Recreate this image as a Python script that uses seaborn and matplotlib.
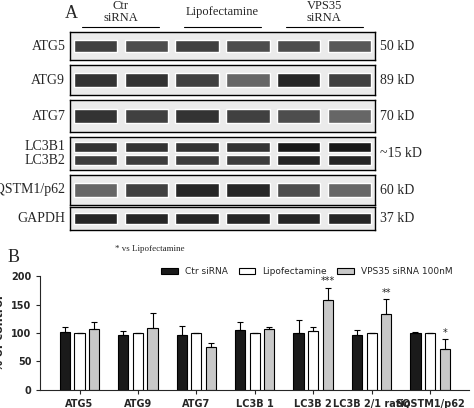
import matplotlib
matplotlib.use("Agg")
import matplotlib.pyplot as plt
import seaborn as sns
import pandas as pd
import numpy as np

categories = ["ATG5", "ATG9", "ATG7", "LC3B 1", "LC3B 2", "LC3B 2/1 ratio", "SQSTM1/p62"]
groups = ["Ctr siRNA", "Lipofectamine", "VPS35 siRNA 100nM"]
ctr_mean = [102, 97, 96, 106, 100, 97, 99]
ctr_err = [8, 6, 17, 14, 23, 8, 3]
lipo_mean = [99, 99, 99, 99, 103, 99, 99]
lipo_err = [0, 0, 1, 0, 8, 0, 0]
vps_mean = [107, 108, 75, 107, 158, 133, 72]
vps_err = [13, 28, 8, 4, 22, 27, 17]
stars = ["", "", "", "", "***", "**", "*"]

blot_rows = ["ATG5", "ATG9", "ATG7", "LC3B1\nLC3B2", "SQSTM1/p62", "GAPDH"]
blot_kd = ["50 kD", "89 kD", "70 kD", "~15 kD", "60 kD", "37 kD"]
lane_groups = ["Ctr\nsiRNA", "Lipofectamine", "VPS35\nsiRNA"]
band_intensity = {
    "ATG5": [0.75, 0.7, 0.75, 0.7, 0.7, 0.65],
    "ATG9": [0.8, 0.8, 0.75, 0.6, 0.85, 0.75],
    "ATG7": [0.8, 0.75, 0.8, 0.75, 0.7, 0.6],
    "LC3B1\nLC3B2": [0.8, 0.8, 0.8, 0.8, 0.9, 0.9],
    "SQSTM1/p62": [0.6, 0.75, 0.85, 0.85, 0.7, 0.6],
    "GAPDH": [0.85, 0.85, 0.85, 0.85, 0.85, 0.85],
}

sns.set_style("white")
plt.rcParams["font.family"] = ["Liberation Serif", "DejaVu Serif"]
fig = plt.figure(figsize=(4.74, 4.08), dpi=100)

# ---- Panel A: blot ----
row_tops = [32, 65, 100, 137, 175, 207]
row_h = [28, 30, 32, 33, 30, 23]
x0, x1 = 70 / 474, 375 / 474
for name, kd, top, h in zip(blot_rows, blot_kd, row_tops, row_h):
    ax = fig.add_axes([x0, 1 - (top + h) / 408, x1 - x0, h / 408])
    vals = band_intensity[name]
    lanes = np.arange(6)
    ax.set_facecolor("#ebebeb")
    if "\n" in name:
        ax.bar(lanes, [0.3] * 6, bottom=0.55, width=0.85, color=[str(1 - v) for v in vals])
        ax.bar(lanes, [0.3] * 6, bottom=0.15, width=0.85, color=[str(1 - v * 0.95) for v in vals])
    else:
        ax.bar(lanes, [0.45] * 6, bottom=0.28, width=0.85, color=[str(1 - v) for v in vals])
    ax.set_xlim(-0.5, 5.5)
    ax.set_ylim(0, 1)
    ax.set_xticks([]); ax.set_yticks([])
    for s in ax.spines.values():
        s.set_color("black"); s.set_linewidth(1)
    fig.text(x0 - 0.01, 1 - (top + h / 2) / 408, name, ha="right", va="center", fontsize=10)
    fig.text(x1 + 0.01, 1 - (top + h / 2) / 408, kd, ha="left", va="center", fontsize=10)

fig.text(65 / 474, 1 - 14 / 408, "A", fontsize=13, va="center")
lane_w = (x1 - x0) / 3
for i, g in enumerate(lane_groups):
    cx = x0 + lane_w * (i + 0.5)
    fig.text(cx, 1 - 12 / 408, g, ha="center", va="center", fontsize=9, linespacing=0.9)
    fig.add_artist(plt.Line2D([cx - lane_w * 0.38, cx + lane_w * 0.38], [1 - 27 / 408] * 2, color="black", lw=0.8))

# ---- Panel B: bar chart ----
df = pd.DataFrame({
    "cat": categories * 3,
    "group": [groups[0]] * 7 + [groups[1]] * 7 + [groups[2]] * 7,
    "val": ctr_mean + lipo_mean + vps_mean,
})
axb = fig.add_axes([0.085, 0.045, 0.905, 0.278])
palette = {groups[0]: "#1a1a1a", groups[1]: "white", groups[2]: "#c8c8c8"}
sns.barplot(data=df, x="cat", y="val", hue="group", palette=palette, ax=axb,
            edgecolor="black", linewidth=0.8, width=0.75, gap=0.3, errorbar=None)
errs = [ctr_err, lipo_err, vps_err]
bar_conts = list(axb.containers)[:3]
for gi, cont in enumerate(bar_conts):
    for ci, bar in enumerate(cont):
        cx = bar.get_x() + bar.get_width() / 2
        top = bar.get_height()
        axb.errorbar(cx, top, yerr=[[0], [errs[gi][ci]]], color="black", capsize=2.5, lw=0.8, capthick=0.8)
        if gi == 2 and stars[ci]:
            axb.text(cx, top + errs[gi][ci] + 2, stars[ci], ha="center", va="bottom", fontsize=7, family="DejaVu Sans")
axb.set_ylim(0, 200)
axb.set_yticks([0, 50, 100, 150, 200])
axb.set_xlabel("")
axb.set_ylabel("% of control", fontsize=8, family="DejaVu Sans", fontweight="bold")
axb.tick_params(axis="both", labelsize=7, length=3, left=True, bottom=True)
for lab in axb.get_xticklabels() + axb.get_yticklabels():
    lab.set_family("DejaVu Sans"); lab.set_fontweight("bold")
sns.despine(ax=axb)
axb.legend(loc="lower right", bbox_to_anchor=(0.98, 0.93), ncol=3, frameon=False,
           prop={"family": "DejaVu Sans", "size": 6.5}, handlelength=1.8, columnspacing=1.2)
fig.text(8 / 474, 1 - 258 / 408, "B", fontsize=13, va="center")
fig.text(115 / 474, 1 - 249 / 408, "* vs Lipofectamine", fontsize=6.5, va="center")

fig.savefig("out.png", dpi=100)
